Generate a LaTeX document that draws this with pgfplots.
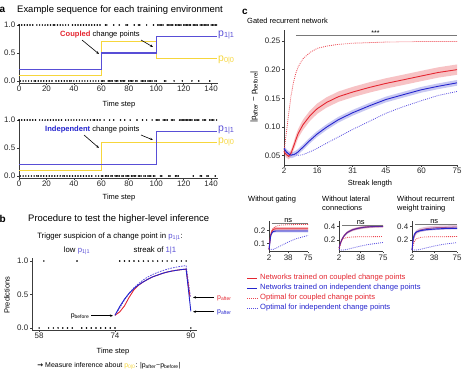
\documentclass[border=0pt]{standalone}
\usepackage{pgfplots}
\pgfplotsset{compat=1.18}
\usepackage{pgfplotstable}
\usepackage{fontspec}
\setmainfont{Liberation Sans}
\newfontfamily\dejavu{DejaVu Sans}
\usetikzlibrary{arrows.meta}
\definecolor{pblue}{RGB}{88,78,214}
\definecolor{pyel}{RGB}{246,214,60}
\definecolor{nred}{RGB}{228,38,48}
\definecolor{nblue}{RGB}{36,36,205}
\definecolor{ored}{RGB}{236,70,80}
\definecolor{oblue}{RGB}{90,80,225}
\definecolor{axgray}{RGB}{60,60,60}
\definecolor{sig}{RGB}{120,120,120}

\tikzset{
  optred/.style={ored, line width=0.8pt, dash pattern=on 0.9pt off 1.1pt},
  optblue/.style={oblue, line width=0.8pt, dash pattern=on 0.9pt off 1.1pt},
  arr/.style={-{Stealth[length=3pt,width=2.4pt]}, line width=0.6pt, black}}
\pgfplotsset{
  base/.style={scale only axis, anchor=south west, axis lines=left,
    axis line style={-, axgray, line width=0.7pt},
    tick style={axgray, line width=0.7pt}, tick align=outside,
    major tick length=2pt, enlargelimits=false, clip=false,
    /pgf/number format/assume math mode=true,
    ticklabel style={font=\fontsize{8}{9}\selectfont, text=black!85, inner sep=1.5pt},
    xticklabel style={yshift=0.5pt}},
  dots/.style={only marks, mark=*, mark size=0.55pt, black},
}

% observation sequences (1 = top row, 0 = bottom row)
\pgfplotstableread[row sep=\\]{s\\
1\\0\\1\\0\\1\\0\\1\\0\\1\\0\\
1\\0\\0\\1\\0\\1\\0\\1\\0\\1\\
0\\1\\0\\1\\0\\1\\1\\0\\1\\0\\
1\\0\\1\\0\\1\\0\\1\\0\\0\\1\\
0\\1\\0\\1\\0\\1\\0\\1\\0\\1\\
0\\1\\0\\1\\0\\1\\0\\1\\0\\1\\
0\\0\\0\\1\\1\\0\\0\\0\\0\\1\\
0\\0\\0\\1\\0\\0\\0\\0\\1\\1\\
0\\0\\0\\0\\1\\0\\0\\1\\1\\0\\
0\\0\\0\\1\\0\\0\\0\\0\\1\\0\\
0\\1\\1\\1\\1\\1\\0\\0\\1\\1\\
1\\1\\1\\0\\1\\1\\1\\1\\1\\0\\
1\\1\\1\\1\\1\\1\\0\\1\\1\\1\\
1\\0\\1\\1\\1\\1\\1\\1\\1\\0\\
1\\1\\1\\1\\1\\}\seqA
\pgfplotstableread[row sep=\\]{s\\
1\\0\\1\\0\\1\\0\\1\\0\\1\\0\\
1\\0\\1\\0\\0\\1\\0\\1\\0\\1\\
0\\1\\0\\1\\0\\1\\0\\1\\0\\1\\
0\\1\\0\\0\\1\\0\\1\\0\\1\\0\\
1\\0\\1\\0\\1\\0\\1\\0\\1\\0\\
1\\0\\1\\0\\1\\1\\0\\1\\0\\1\\
0\\0\\1\\0\\0\\0\\1\\0\\0\\1\\
0\\0\\0\\0\\1\\0\\0\\1\\0\\0\\
0\\1\\0\\0\\0\\0\\1\\0\\0\\0\\
1\\0\\0\\1\\0\\0\\0\\1\\0\\0\\
1\\1\\1\\0\\0\\1\\1\\1\\1\\0\\
0\\1\\1\\1\\0\\0\\0\\1\\1\\1\\
1\\1\\1\\1\\1\\1\\1\\0\\1\\1\\
1\\1\\0\\0\\1\\1\\1\\0\\0\\1\\
1\\1\\1\\0\\1\\}\seqB

\begin{document}
\begin{tikzpicture}[x=1bp,y=1bp]
\useasboundingbox (0,0) rectangle (474,377);

% ================= panel a =================
\node[anchor=west, inner sep=0, font=\fontsize{10}{11}\selectfont\bfseries] at (-0.5,367) {a};
\node[anchor=west, inner sep=0, font=\fontsize{9.5}{11}\selectfont] at (17,367) {Example sequence for each training environment};

\begin{axis}[base, at={(19bp,294bp)}, width=199bp, height=59bp,
  xmin=0, xmax=145, ymin=-0.036, ymax=1.018,
  xtick={0,20,40,60,80,100,120,140}, xticklabels={0,20,40,60,80,100,120,140},
  ytick={0,0.5,1}, yticklabels={0.0,0.5,1.0}]
\addplot[dots] table[x expr=\coordindex, y=s] {\seqA};
\addplot[pyel, line width=1.1pt, const plot] coordinates {(0,0.1)(60,0.7)(100,0.4)(144,0.4)};
\addplot[pblue, line width=1.1pt, const plot] coordinates {(0,0.2)(60,0.5)(100,0.8)(144,0.8)};
\end{axis}
\node[font=\fontsize{7.5}{8}\selectfont] at (119,272) {Time step};
\node[anchor=west, inner sep=0, font=\fontsize{7.6}{8}\selectfont] at (60,342) {\textcolor{nred}{\bfseries Coupled} change points};
\draw[arr] (82,337) -- (99,323);
\draw[arr] (141,337) -- (153,330);
\node[anchor=west, inner sep=0, text=pblue, font=\fontsize{10.5}{11}\selectfont] at (218,342) {p\textsubscript{1|1}};
\node[anchor=west, inner sep=0, text=pyel, font=\fontsize{10.5}{11}\selectfont] at (218,317) {p\textsubscript{0|0}};

\begin{axis}[base, at={(19bp,199bp)}, width=199bp, height=59bp,
  xmin=0, xmax=145, ymin=-0.036, ymax=1.018,
  xtick={0,20,40,60,80,100,120,140}, xticklabels={0,20,40,60,80,100,120,140},
  ytick={0,0.5,1}, yticklabels={0.0,0.5,1.0}]
\addplot[dots] table[x expr=\coordindex, y=s] {\seqB};
\addplot[pyel, line width=1.1pt, const plot] coordinates {(0,0.1)(60,0.6)(144,0.6)};
\addplot[pblue, line width=1.1pt, const plot] coordinates {(0,0.2)(100,0.8)(144,0.8)};
\end{axis}
\node[font=\fontsize{7.5}{8}\selectfont] at (119,179) {Time step};
\node[anchor=west, inner sep=0, font=\fontsize{7.6}{8}\selectfont] at (45,247) {\textcolor{nblue}{\bfseries Independent} change points};
\draw[arr] (84,242) -- (99,229);
\draw[arr] (141,242) -- (153,237);
\node[anchor=west, inner sep=0, text=pblue, font=\fontsize{10.5}{11}\selectfont] at (218,247) {p\textsubscript{1|1}};
\node[anchor=west, inner sep=0, text=pyel, font=\fontsize{10.5}{11}\selectfont] at (218,235) {p\textsubscript{0|0}};

% ================= panel b =================
\node[anchor=west, inner sep=0, font=\fontsize{10}{11}\selectfont\bfseries] at (-0.5,158) {b};
\node[anchor=west, inner sep=0, font=\fontsize{9.5}{11}\selectfont] at (28,158) {Procedure to test the higher-level inference};
\node[font=\fontsize{7.8}{8}\selectfont] at (110,140) {Trigger suspicion of a change point in \textcolor{pblue}{p\textsubscript{1|1}}:};
\node[font=\fontsize{7.8}{8}\selectfont] at (77,126) {low \textcolor{pblue}{p\textsubscript{1|1}}};
\node[font=\fontsize{7.8}{8}\selectfont] at (155,126) {streak of \textcolor{pblue}{1|1}};

\begin{axis}[base, at={(32bp,47bp)}, width=165bp, height=72bp,
  xmin=56.5, xmax=91.3, ymin=-0.03, ymax=1.045,
  xtick={58,74,90}, xticklabels={58,74,90},
  ytick={0,0.5,1}, yticklabels={0.0,0.5,1.0}]
\addplot[dots] coordinates {(59,1)(66,1)(75,1)(76,1)(77,1)(78,1)(79,1)(80,1)(81,1)(82,1)(83,1)(84,1)(85,1)(86,1)(87,1)(88,1)(89,1)};
\addplot[dots] coordinates {(58,0)(60,0)(61,0)(62,0)(63,0)(64,0)(65,0)(67,0)(68,0)(69,0)(70,0)(71,0)(72,0)(73,0)(74,0)(90,0)};
\addplot[oblue, line width=0.8pt, dash pattern=on 1.6pt off 1.1pt] coordinates {(74,0.19)(75,0.3)(76,0.42)(77,0.52)(78,0.6)(79,0.665)(80,0.72)(81,0.765)(82,0.8)(83,0.83)(84,0.855)(85,0.877)(86,0.895)(87,0.91)(88,0.922)(89,0.932)(89.9,0.47)};
\addplot[nred, line width=0.9pt] coordinates {(74,0.19)(75,0.24)(76,0.33)(77,0.46)(78,0.57)(79,0.64)(80,0.69)(81,0.73)(82,0.765)(83,0.79)(84,0.815)(85,0.835)(86,0.85)(87,0.862)(88,0.872)(89,0.878)(89.8,0.47)};
\addplot[nblue, line width=0.9pt] coordinates {(74,0.19)(75,0.32)(76,0.43)(77,0.52)(78,0.59)(79,0.645)(80,0.69)(81,0.73)(82,0.765)(83,0.79)(84,0.815)(85,0.835)(86,0.85)(87,0.862)(88,0.872)(89,0.88)(90,0.25)};
\end{axis}
\node[rotate=90, font=\fontsize{7.5}{8}\selectfont] at (7,82) {Predictions};
\node[font=\fontsize{7.5}{8}\selectfont] at (113,25) {Time step};
\node[anchor=east, inner sep=0.5pt, font=\fontsize{7}{7}\selectfont] at (90,61) {p\textsubscript{before}};
\draw[arr] (91,61.3) -- (113,61.3);
\node[anchor=west, inner sep=0, text=nred, font=\fontsize{7}{7}\selectfont] at (217,79) {p\textsubscript{after}};
\draw[arr] (214,79.6) -- (193,79.6);
\node[anchor=west, inner sep=0, text=nblue, font=\fontsize{7}{7}\selectfont] at (217,64.5) {p\textsubscript{after}};
\draw[arr] (214,65.3) -- (193,65.3);
\node[font=\fontsize{7}{8}\selectfont] at (109,11) {{\dejavu\bfseries →} Measure inference about \textcolor{pyel}{p\textsubscript{0|0}}: |p\textsubscript{after}−p\textsubscript{before}|};

% ================= panel c =================
\node[anchor=west, inner sep=0, font=\fontsize{10}{11}\selectfont\bfseries] at (242,365) {c};
\node[anchor=west, inner sep=0, font=\fontsize{7.5}{8}\selectfont] at (247,356) {Gated recurrent network};

\begin{axis}[base, at={(284bp,212bp)}, width=173bp, height=135bp,
  xmin=2, xmax=75, ymin=0.034, ymax=0.269,
  xtick={2,16,31,45,60,75}, xticklabels={2,16,31,45,60,75},
  ytick={0.05,0.1,0.15,0.2,0.25}, yticklabels={0.05,0.10,0.15,0.20,0.25}]
\addplot[fill=nred, fill opacity=0.28, draw=none] coordinates {
 (2,.062)(3,.057)(4,.054)(5,.061)(6,.073)(7,.086)(8,.097)(10,.113)(13,.129)(16,.141)(20,.152)(25,.162)(31,.170)(38,.178)(45,.185)(52,.191)(60,.198)(67,.204)(75,.209)
 (75,.191)(67,.186)(60,.180)(52,.173)(45,.167)(38,.160)(31,.152)(25,.144)(20,.134)(16,.123)(13,.111)(10,.095)(8,.081)(7,.070)(6,.059)(5,.049)(4,.044)(3,.047)(2,.052)} -- cycle;
\addplot[fill=nblue, fill opacity=0.25, draw=none] coordinates {
 (2,.068)(3,.062)(4,.058)(5,.056)(6,.057)(7,.059)(8,.062)(10,.070)(13,.082)(16,.093)(20,.105)(25,.118)(31,.130)(38,.142)(45,.153)(52,.161)(60,.170)(67,.176)(75,.182)
 (75,.172)(67,.166)(60,.160)(52,.151)(45,.143)(38,.132)(31,.120)(25,.108)(20,.095)(16,.083)(13,.072)(10,.060)(8,.052)(7,.049)(6,.047)(5,.046)(4,.048)(3,.052)(2,.058)} -- cycle;
\addplot[optred] coordinates {(2,.057)(3,.09)(4,.125)(5,.155)(6,.178)(7,.194)(8,.205)(10,.219)(13,.230)(16,.237)(20,.241)(25,.244)(31,.246)(38,.247)(45,.248)(60,.249)(75,.249)};
\addplot[optblue] coordinates {(2,.062)(3,.057)(4,.054)(6,.052)(8,.051)(10,.052)(13,.057)(16,.063)(20,.072)(25,.083)(31,.096)(38,.110)(45,.124)(52,.135)(60,.146)(67,.155)(75,.162)};
\addplot[nred, line width=0.9pt] coordinates {(2,.057)(3,.052)(4,.049)(5,.055)(6,.066)(7,.078)(8,.089)(10,.104)(13,.120)(16,.132)(20,.143)(25,.153)(31,.161)(38,.169)(45,.176)(52,.182)(60,.189)(67,.195)(75,.200)};
\addplot[nblue, line width=0.9pt] coordinates {(2,.063)(3,.057)(4,.053)(5,.051)(6,.052)(7,.054)(8,.057)(10,.065)(13,.077)(16,.088)(20,.100)(25,.113)(31,.125)(38,.137)(45,.148)(52,.156)(60,.165)(67,.171)(75,.177)};
\draw[sig, line width=0.7pt] (axis cs:7,0.26) -- (axis cs:75,0.26);
\node[font=\fontsize{7}{7}\selectfont, inner sep=0] at (axis cs:40.6,0.2637) {***};
\end{axis}
\node[rotate=90, font=\fontsize{8}{8}\selectfont] at (254,280) {|p\textsubscript{after} − p\textsubscript{before}|};
\node[font=\fontsize{7.5}{8}\selectfont] at (370,193) {Streak length};

% sub-panel titles
\node[anchor=west, inner sep=0, font=\fontsize{7.5}{8}\selectfont] at (248,177) {Without gating};
\node[anchor=north west, inner sep=0, align=left, font=\fontsize{7.5}{8.6}\selectfont] at (322,181) {Without lateral\\connections};
\node[anchor=north west, inner sep=0, align=left, font=\fontsize{7.5}{8.6}\selectfont] at (397,181) {Without recurrent\\weight training};

% sub 1
\begin{axis}[base, at={(269bp,125.5bp)}, width=39bp, height=31bp,
  xmin=2, xmax=75, ymin=0.035, ymax=0.28,
  xtick={2,38,75}, xticklabels={2,38,75},
  ytick={0.1,0.2}, yticklabels={0.1,0.2}]
\addplot[fill=nred, fill opacity=0.3, draw=none] coordinates {(2,.063)(3,.103)(4,.143)(5,.173)(6,.193)(8,.213)(10,.223)(15,.228)(30,.228)(75,.228)(75,.202)(30,.202)(15,.202)(10,.197)(8,.187)(6,.167)(5,.147)(4,.117)(3,.077)(2,.037)} -- cycle;
\addplot[fill=nblue, fill opacity=0.28, draw=none] coordinates {(2,.06)(3,.09)(4,.13)(5,.16)(6,.18)(8,.195)(10,.203)(15,.207)(75,.207)(75,.187)(15,.187)(10,.183)(8,.175)(6,.16)(5,.14)(4,.11)(3,.07)(2,.04)} -- cycle;
\addplot[optred] coordinates {(2,.057)(3,.09)(4,.125)(5,.155)(6,.178)(8,.205)(10,.219)(16,.237)(25,.244)(40,.247)(75,.249)};
\addplot[optblue] coordinates {(2,.06)(6,.052)(10,.052)(16,.063)(25,.083)(38,.11)(52,.135)(75,.162)};
\addplot[nred, line width=0.9pt] coordinates {(2,.05)(3,.09)(4,.13)(5,.16)(6,.18)(8,.20)(10,.21)(15,.215)(30,.215)(75,.215)};
\addplot[nblue, line width=0.9pt] coordinates {(2,.05)(3,.08)(4,.12)(5,.15)(6,.17)(8,.185)(10,.193)(15,.197)(75,.197)};
\draw[sig, line width=0.6pt] (axis cs:7,0.258) -- (axis cs:75,0.258);
\node[font=\fontsize{7.5}{7}\selectfont, anchor=south, inner sep=0.5pt] at (axis cs:38,0.258) {ns};
\end{axis}

% sub 2
\begin{axis}[base, at={(339bp,125.5bp)}, width=44bp, height=31bp,
  xmin=2, xmax=75, ymin=0.03, ymax=0.485,
  xtick={2,38,75}, xticklabels={2,38,75},
  ytick={0.2,0.4}, yticklabels={0.2,0.4}]
\addplot[fill=nred, fill opacity=0.25, draw=none] coordinates {(2,.10)(3,.13)(4,.16)(5,.185)(6,.21)(8,.245)(10,.275)(13,.305)(16,.33)(20,.35)(25,.37)(31,.385)(38,.398)(45,.407)(52,.413)(60,.417)(75,.42)(75,.38)(60,.377)(52,.373)(45,.367)(38,.358)(31,.345)(25,.33)(20,.31)(16,.29)(13,.265)(10,.235)(8,.205)(6,.17)(5,.145)(4,.12)(3,.09)(2,.06)} -- cycle;
\addplot[fill=nblue, fill opacity=0.3, draw=none] coordinates {(2,.095)(3,.125)(4,.155)(5,.18)(6,.205)(8,.24)(10,.27)(13,.30)(16,.325)(20,.345)(25,.365)(31,.38)(38,.393)(45,.402)(52,.408)(60,.412)(75,.415)(75,.385)(60,.382)(52,.378)(45,.372)(38,.363)(31,.35)(25,.335)(20,.315)(16,.295)(13,.27)(10,.24)(8,.21)(6,.175)(5,.15)(4,.125)(3,.095)(2,.065)} -- cycle;
\addplot[optred] coordinates {(2,.057)(3,.09)(4,.125)(5,.155)(6,.178)(8,.205)(10,.219)(16,.237)(25,.244)(40,.247)(75,.249)};
\addplot[optblue] coordinates {(2,.06)(6,.052)(10,.052)(16,.063)(25,.083)(38,.11)(52,.135)(75,.162)};
\addplot[nred, line width=0.9pt] coordinates {(2,.08)(3,.11)(4,.14)(5,.165)(6,.19)(8,.225)(10,.255)(13,.285)(16,.31)(20,.33)(25,.35)(31,.365)(38,.378)(45,.387)(52,.393)(60,.397)(75,.40)};
\addplot[nblue, line width=0.9pt, opacity=0.7] coordinates {(2,.08)(3,.11)(4,.14)(5,.165)(6,.19)(8,.225)(10,.255)(13,.285)(16,.31)(20,.33)(25,.35)(31,.365)(38,.378)(45,.387)(52,.393)(60,.397)(75,.40)};
\draw[sig, line width=0.6pt] (axis cs:7,0.415) -- (axis cs:75,0.415);
\node[font=\fontsize{7.5}{7}\selectfont, anchor=south, inner sep=0.5pt] at (axis cs:38,0.415) {ns};
\end{axis}

% sub 3
\begin{axis}[base, at={(412bp,125.5bp)}, width=45bp, height=31bp,
  xmin=2, xmax=75, ymin=0.03, ymax=0.485,
  xtick={2,38,75}, xticklabels={2,38,75},
  ytick={0.2,0.4}, yticklabels={0.2,0.4}]
\addplot[fill=nred!60!nblue, fill opacity=0.25, draw=none] coordinates {(2,.07)(3,.15)(4,.21)(5,.26)(6,.29)(8,.33)(10,.35)(15,.375)(25,.395)(40,.41)(60,.415)(75,.42)(75,.36)(60,.355)(40,.35)(25,.335)(15,.315)(10,.29)(8,.27)(6,.23)(5,.20)(4,.15)(3,.09)(2,.03)} -- cycle;
\addplot[fill=nblue, fill opacity=0.25, draw=none] coordinates {(2,.06)(3,.165)(4,.235)(5,.275)(6,.30)(8,.325)(10,.335)(15,.35)(25,.365)(40,.375)(60,.385)(75,.385)(75,.355)(60,.355)(40,.345)(25,.335)(15,.32)(10,.305)(8,.295)(6,.27)(5,.245)(4,.205)(3,.135)(2,.04)} -- cycle;
\addplot[optred] coordinates {(2,.057)(3,.09)(4,.125)(5,.155)(6,.178)(8,.205)(10,.219)(16,.237)(25,.244)(40,.247)(75,.249)};
\addplot[optblue] coordinates {(2,.06)(6,.052)(10,.052)(16,.063)(25,.083)(38,.11)(52,.135)(75,.162)};
\addplot[nred!55!nblue, line width=0.8pt, opacity=0.7] coordinates {(2,.05)(3,.12)(4,.18)(5,.23)(6,.26)(8,.30)(10,.32)(15,.345)(25,.365)(40,.38)(60,.385)(75,.39)};
\addplot[nblue, line width=0.9pt] coordinates {(2,.05)(3,.15)(4,.22)(5,.26)(6,.285)(8,.31)(10,.32)(15,.335)(25,.35)(40,.36)(60,.37)(75,.37)};
\draw[sig, line width=0.6pt] (axis cs:7,0.43) -- (axis cs:75,0.43);
\node[font=\fontsize{7.5}{7}\selectfont, anchor=south, inner sep=0.5pt] at (axis cs:38,0.43) {ns};
\end{axis}

% legend
\draw[nred, line width=1pt] (247,99) -- (257,99);
\node[anchor=west, inner sep=0, text=nred, font=\fontsize{7.6}{8}\selectfont] at (260,99) {Networks trained on coupled change points};
\draw[nblue, line width=1pt] (247,89) -- (257,89);
\node[anchor=west, inner sep=0, text=nblue, font=\fontsize{7.6}{8}\selectfont] at (260,89) {Networks trained on independent change points};
\draw[optred] (247,79) -- (257,79);
\node[anchor=west, inner sep=0, text=nred, font=\fontsize{7.6}{8}\selectfont] at (260,79) {Optimal for coupled change points};
\draw[optblue] (247,69) -- (257,69);
\node[anchor=west, inner sep=0, text=nblue, font=\fontsize{7.6}{8}\selectfont] at (260,69) {Optimal for independent change points};
\end{tikzpicture}
\end{document}
